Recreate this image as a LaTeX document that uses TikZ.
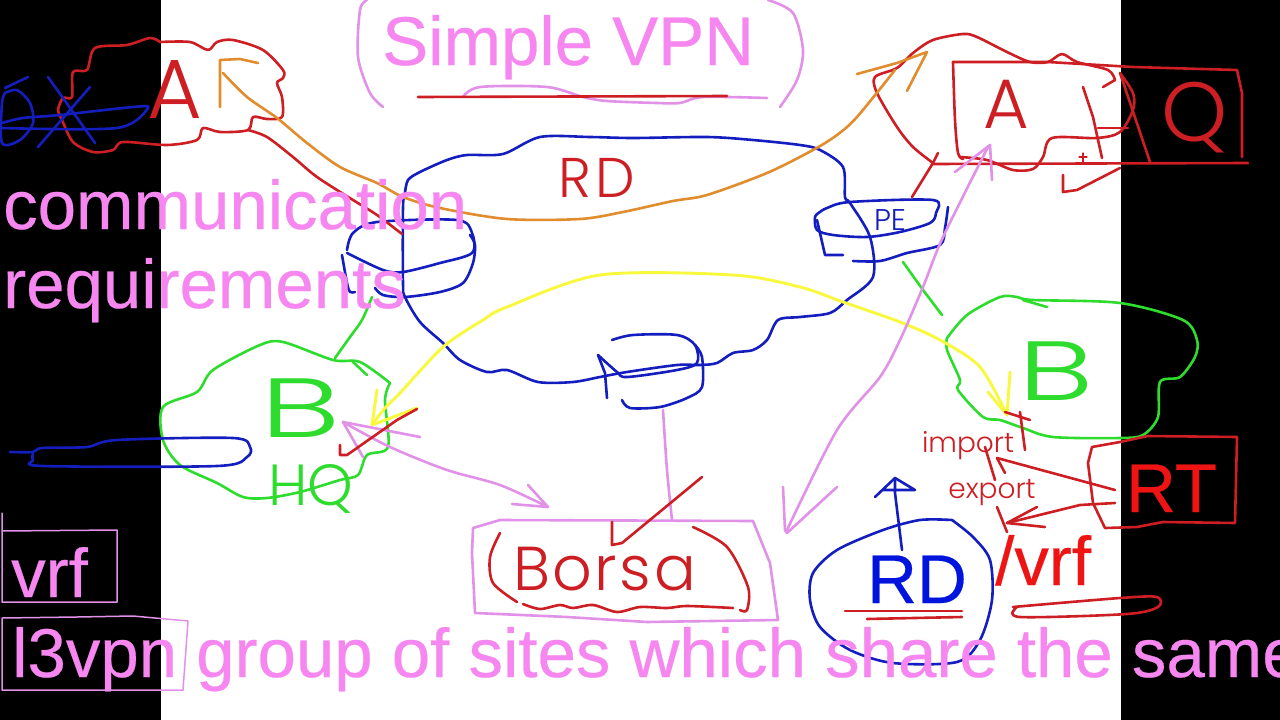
\documentclass[tikz,border=0pt]{standalone}
\usepackage{fontspec}
\setmainfont{Liberation Sans}
\newfontfamily\typedFont[FakeBold=0.35]{Liberation Sans}
\newfontfamily\handFont{Poppins Light}
\definecolor{inkRed}{RGB}{205,30,35}
\definecolor{inkBlue}{RGB}{20,30,190}
\definecolor{inkGreen}{RGB}{45,220,45}
\definecolor{inkYellow}{RGB}{248,248,60}
\definecolor{inkOrange}{RGB}{225,140,45}
\definecolor{inkPink}{RGB}{225,145,232}
\definecolor{typePink}{RGB}{246,135,240}
\definecolor{typeRed}{RGB}{238,20,20}
\definecolor{typeBlue}{RGB}{0,20,222}

\begin{document}
\begin{tikzpicture}[
      x=1pt, y=-1pt,
      ink/.style={line width=2.6pt, line join=round, line cap=round},
      redInk/.style={ink, draw=inkRed},
      blueInk/.style={ink, draw=inkBlue},
      greenInk/.style={ink, draw=inkGreen},
      yellowInk/.style={ink, draw=inkYellow, line width=2.9pt},
      orangeInk/.style={ink, draw=inkOrange},
      pinkInk/.style={ink, draw=inkPink},
      typed/.style={anchor=base west, inner sep=0pt, font=\typedFont\fontsize{69}{69}\selectfont, text=typePink}
    ]

      \clip (0,0) rectangle (1280,720);
      \fill[black] (0,0) rectangle (1280,720);
      \fill[white] (161,0) rectangle (1121,720);

      % ---------- Main cloud ----------
      \draw[blueInk] plot[smooth] coordinates {(405,193) (408,180) (420,172) (447,160) (467,155) (503,154) (540,137) (590,137) (633,138) (707,137) (753,140) (800,145) (820,150) (843,167) (845,197) (850,203) (870,237) (873,277) (847,300) (830,313) (800,317) (778,320) (767,340) (753,350) (733,353) (717,363) (700,365) (677,365) (627,372) (600,377) (573,382) (538,382) (507,370) (487,372) (460,360) (443,343) (420,322) (405,297) (403,283) (403,207) (405,193)};

      % ---------- PE routers ----------
      \draw[blueInk] plot[smooth] coordinates {(347,250) (353,233) (377,222) (457,220) (472,233) (472,253) (440,263) (403,272) (383,270) (347,253)};
      \draw[blueInk] plot[smooth] coordinates {(470,235) (475,245) (473,263) (463,283) (440,292) (405,297) (383,295) (375,288)};
      \draw[blueInk] plot[smooth] coordinates {(342,255) (347,283) (350,292) (355,292)};

      \draw[blueInk] plot[smooth] coordinates {(820,212) (827,208) (850,202) (933,200) (936,213) (930,223) (900,232) (867,237) (833,235) (817,230) (815,217) (820,212)};
      \draw[blueInk] (817,220) -- (825,255) -- (843,255);
      \draw[blueInk] plot[smooth] coordinates {(853,261) (880,261) (907,253) (940,245) (945,228) (948,207)};

      \draw[blueInk] plot[smooth] coordinates {(612,340) (633,335) (677,335) (695,345) (697,363) (677,370) (627,377) (617,372) (598,355)};
      \draw[blueInk] (598,355) -- (605,373) -- (607,398);
      \draw[blueInk] plot[smooth] coordinates {(695,345) (702,357) (702,387) (687,398) (660,407) (630,408) (622,400)};

      % ---------- Site A, left ----------
      \draw[redInk] plot[smooth] coordinates {(160,42) (190,42) (208,50) (217,42) (233,40) (263,50) (283,70) (283,78) (277,83) (282,97) (282,117) (267,119) (253,117) (248,130) (220,132) (203,128) (197,140) (167,145) (123,142) (113,150) (93,152) (73,142) (62,120) (58,110) (63,98) (72,97) (73,72) (87,70) (95,48) (127,45) (150,38) (160,42)};
      \draw[redInk] plot[smooth] coordinates {(248,130) (267,137) (293,157) (317,177) (353,200) (377,215) (402,234)};
      \node[inner sep=0pt, text=inkRed, font=\handFont\fontsize{84}{84}\selectfont] (siteAleft) at (175,90) {A};

      % scribbled out
      \draw[blueInk] plot[smooth] coordinates {(5,93) (17,90) (30,103) (33,123) (20,140) (2,143) (2,103) (5,93)};
      \draw[blueInk] (5,88) -- (28,77);
      \draw[blueInk] (48,77) -- (95,143);
      \draw[blueInk] (90,87) -- (38,147);
      \draw[blueInk] plot[smooth] coordinates {(2,123) (23,118) (60,115) (133,107) (148,108) (117,128) (2,128)};

      % ---------- Site A, right ----------
      \draw[redInk] plot[smooth] coordinates {(1115,80) (1108,70) (1077,62) (1062,54) (1048,62) (1030,62) (1007,52) (977,37) (963,34) (933,40) (913,53) (897,68) (875,77) (877,93) (897,127) (913,147) (933,163)};
      \draw[redInk] plot[smooth] coordinates {(960,157) (987,160) (1013,170) (1033,169) (1043,157) (1052,138) (1097,138) (1120,132) (1133,110) (1133,93) (1120,73)};
      \draw[redInk] (1115,80) -- (1103,87);
      \draw[redInk] (953,62) -- (1048,62) -- (1133,67) -- (1237,70) -- (1242,93) -- (1242,157);
      \draw[redInk] plot[smooth] coordinates {(953,62) (955,120) (958,153) (963,159)};
      \draw[redInk] (933,164) -- (1248,163);
      \draw[redInk] (1120,73) -- (1150,162);
      \draw[redInk] (938,153) -- (933,163) -- (912,197);
      \draw[redInk] (1083,87) -- (1093,117) -- (1102,158);
      \draw[redInk] (1098,128) -- (1128,128);
      \draw[redInk, line width=1.2pt] (1083,153) -- (1083,162) (1079,157) -- (1087,157);
      \draw[redInk] (1063,175) -- (1063,192) -- (1077,190) -- (1120,168);
      \node[inner sep=0pt, text=inkRed, font=\handFont\fontsize{70}{70}\selectfont] (siteAright) at (1006,104) {A};
      \node[inner sep=0pt, text=inkRed, font=\handFont\fontsize{84}{84}\selectfont] (siteQ) at (1195,118) {Q};

      % ---------- Site B, left ----------
      \draw[greenInk] plot[smooth] coordinates {(390,383) (385,400) (388,447) (367,455) (358,475) (340,480) (300,492) (267,498) (243,497) (217,483) (180,465) (163,440) (163,407) (197,392) (213,370) (260,345) (283,342) (333,360) (360,362) (390,383)};
      \draw[greenInk] plot[smooth] coordinates {(335,358) (350,337) (362,320) (372,297)};
      \draw[greenInk] (353,362) -- (367,375);
      \node[inner sep=0pt, text=inkGreen, font=\handFont\fontsize{84}{84}\selectfont] (siteBleft) at (301,408) {\scalebox{1.6}[1]{B}};
      \node[inner sep=0pt, text=inkGreen, font=\handFont\fontsize{58}{58}\selectfont] (siteHQ) at (311,489) {HQ};

      % ---------- Site B, right ----------
      \draw[greenInk] plot[smooth] coordinates {(947,338) (967,315) (1000,297) (1017,297) (1033,300) (1120,303) (1183,320) (1197,340) (1195,357) (1180,377) (1160,382) (1158,417) (1143,435) (1120,438) (1053,437) (1023,428) (1000,420) (983,417) (958,390) (960,380) (947,350) (947,338)};
      \draw[greenInk] (1023,300) -- (1047,307);
      \draw[greenInk] (903,262) -- (923,290) -- (942,315);
      \node[inner sep=0pt, text=inkGreen, font=\handFont\fontsize{84}{84}\selectfont] (siteBright) at (1056,371) {\scalebox{1.5}[1]{B}};

      % ---------- Flows ----------
      \draw[orangeInk] plot[smooth] coordinates {(223,73) (247,97) (277,118) (307,143) (340,167) (377,183) (403,197) (440,208) (507,219) (580,219) (623,212) (673,201) (707,195) (767,173) (813,150) (837,135) (857,117) (895,70)};
      \draw[orangeInk] (220,107) -- (220,60) -- (240,59) -- (258,63);
      \draw[orangeInk] (857,74) -- (897,63) -- (927,52) -- (907,91);

      \draw[yellowInk] plot[smooth] coordinates {(372,425) (385,408) (400,393) (443,347) (483,320) (507,307) (600,275) (733,275) (800,287) (843,302) (900,322) (940,340) (980,367) (1007,415)};
      \draw[yellowInk] (377,390) -- (372,425) -- (417,408);
      \draw[yellowInk] (1010,372) -- (1007,415) -- (988,392);

      \draw[pinkInk] plot[smooth] coordinates {(988,147) (943,237) (923,287) (900,340) (880,377) (837,430) (787,530)};
      \draw[pinkInk] (955,172) -- (990,145) -- (992,180);
      \draw[pinkInk] (783,487) -- (785,530) -- (787,533) -- (837,487);

      \draw[pinkInk] plot[smooth] coordinates {(343,422) (390,447) (447,470) (500,485) (548,507)};
      \draw[pinkInk] (420,437) -- (343,422) -- (363,457);
      \draw[pinkInk] (528,485) -- (548,507) -- (512,504);

      \draw[redInk] (340,445) -- (340,455) -- (347,455) -- (397,420) -- (417,409);

      % ---------- Borsa ----------
      \draw[pinkInk] plot[smooth] coordinates {(663,410) (667,470) (672,520)};
      \draw[pinkInk] (473,528) -- (500,520) -- (753,521) -- (770,563) -- (778,620) -- (647,622) -- (567,617) -- (475,613) -- (472,553) -- cycle;
      \draw[redInk] (612,522) -- (612,545) -- (622,543) -- (702,477);
      \draw[redInk] plot[smooth] coordinates {(500,533) (490,557) (493,583) (517,602)};
      \draw[redInk] plot[smooth] coordinates {(693,527) (727,547) (748,587) (747,610) (740,610)};
      \draw[redInk] plot[smooth] coordinates {(523,604) (540,609) (560,605) (573,608) (593,605) (617,612) (640,607) (667,608) (687,606) (733,608)};
      \node[inner sep=0pt, text=inkRed, font=\handFont\fontsize{62}{62}\selectfont, anchor=base west] (borsaLabel) at (513,590) {\addfontfeature{LetterSpace=4}Borsa};

      % ---------- Title marks ----------
      \draw[pinkInk] plot[smooth] coordinates {(367,0) (360,10) (358,57) (370,93) (383,107)};
      \draw[pinkInk] plot[smooth] coordinates {(768,0) (793,13) (803,50) (797,80) (780,107)};
      \draw[pinkInk] plot[smooth] coordinates {(463,97) (480,87) (547,87) (583,97) (607,101) (657,103) (680,103) (703,97) (767,98)};
      \draw[redInk] (418,97) -- (727,96);
      \node[inner sep=0pt, text=inkRed, font=\handFont\fontsize{56}{56}\selectfont] (rdLabel) at (597,178) {\addfontfeature{LetterSpace=8}RD};
      \node[inner sep=0pt, text=inkBlue, font=\handFont\fontsize{30}{30}\selectfont] (peLabel) at (890,220) {PE};

      % ---------- Long strokes ----------
      \draw[blueInk] plot[smooth] coordinates {(10,452) (33,452) (42,448) (87,447) (117,440) (233,438) (250,447) (247,457) (217,466) (43,466) (33,460) (33,453)};

      \draw[blueInk] plot[smooth] coordinates {(952,520) (920,520) (883,530) (837,550) (813,573) (810,600) (820,627) (850,650) (893,663) (957,662) (980,640) (992,600) (990,560) (973,537) (952,520)};
      \draw[blueInk] (902,550) -- (895,493) -- (895,478);
      \draw[blueInk] (875,497) -- (895,478) -- (915,490) -- (883,490);
      \draw[redInk] (845,611) -- (962,611);
      \draw[redInk] (867,619) -- (962,617);
      \draw[redInk] plot[smooth] coordinates {(1013,607) (1120,598) (1157,597) (1158,607) (1127,614) (1020,617) (1017,607)};

      % ---------- RT ----------
      \draw[redInk] (1237,437) -- (1148,436) -- (1120,442) -- (1092,447) -- (1088,463) -- (1093,503) -- (1105,528) -- (1137,527) -- (1163,522) -- (1235,523) -- cycle;
      \draw[redInk] (1115,490) -- (997,458);
      \draw[redInk] (985,447) -- (995,480) (997,458) -- (1005,473);
      \draw[redInk] (1115,503) -- (1080,505) -- (1007,523);
      \draw[redInk] (1037,507) -- (1007,523) -- (1045,527);
      \draw[redInk] (997,507) -- (1007,532);
      \draw[redInk] (1005,412) -- (1030,420) (1020,412) -- (1025,450);
      \node[inner sep=0pt, text=inkRed, font=\handFont\fontsize{28}{28}\selectfont] (importLabel) at (968,446) {import};
      \node[inner sep=0pt, text=inkRed, font=\handFont\fontsize{28}{28}\selectfont] (exportLabel) at (992,493) {export};

      % ---------- Slides text ----------
      \node[typed] (titleLabel) at (382,65) {Simple VPN};
      \node[typed] (commLabel) at (3,229) {communication};
      \node[typed] (reqLabel) at (3,308) {requirements};
      \node[typed] (vrfLabel) at (11,597) {vrf};
      \node[typed] (vpnLabel) at (12,677) {l3vpn group of sites which share the same};
      \node[typed, text=typeRed] (rtLabel) at (1126,512) {RT};
      \node[typed, text=typeRed] (vrfRed) at (995,585) {/vrf};
      \node[typed, text=typeBlue] (rdBlue) at (867,603) {RD};

      \draw[pinkInk, line width=1.5pt] (2,513) -- (2,602) -- (117,602) -- (117,530) -- (2,531);
      \draw[pinkInk, line width=1.5pt] (2,618) -- (77,617) -- (133,616) -- (188,621) -- (183,690) -- (2,690) -- cycle;

    \end{tikzpicture}
\end{document}
